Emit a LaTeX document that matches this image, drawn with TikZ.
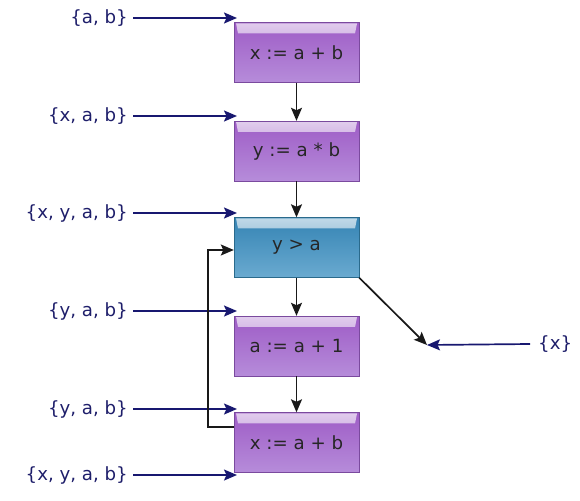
\documentclass[tikz,border=0pt]{standalone}
\usepackage{fontspec}
\setmainfont{DejaVu Sans}
\usetikzlibrary{arrows.meta,calc,fadings}
\definecolor{navy}{HTML}{181870}
\definecolor{lbl}{HTML}{1E1E6A}
\definecolor{ptop}{HTML}{9E5CC6}
\definecolor{pbot}{HTML}{B68CDA}
\definecolor{pbord}{HTML}{7A4A9E}
\definecolor{btop}{HTML}{3584B4}
\definecolor{bbot}{HTML}{6AAAD0}
\definecolor{bbord}{HTML}{2A6A8C}
\tikzset{
  gloss/.style={path picture={\fill[white,opacity=0.7,path fading=south]
      ($(path picture bounding box.north west)+(2pt,-0.8pt)$) --
      ($(path picture bounding box.north east)+(-2pt,-0.8pt)$) --
      ($(path picture bounding box.north east)+(-4pt,-11pt)$) --
      ($(path picture bounding box.north west)+(4pt,-11pt)$) -- cycle;}},
  blk/.style={minimum width=125pt,minimum height=60pt,inner sep=0pt,
    font=\fontsize{18.2}{21}\selectfont,text=black!85},
  purp/.style={blk,draw=pbord,top color=ptop,bottom color=pbot,gloss},
  blu/.style={blk,draw=bbord,top color=btop,bottom color=bbot,gloss},
  setlbl/.style={font=\fontsize{18.2}{21}\selectfont,text=lbl,inner sep=0pt},
  tip/.tip={Stealth[length=13pt,width=11pt,inset=2.5pt]},
  inarr/.style={draw=navy,line width=1.7pt,-tip},
  flow/.style={draw=black!90,line width=1.7pt,-tip},
}
\begin{document}
\begin{tikzpicture}[x=1pt,y=-1pt]
\useasboundingbox (0,0) rectangle (580,500);
\node[purp] (b1) at (296.5,52.5) {x := a + b};
\node[purp] (b2) at (296.5,151) {y := a * b};
\node[blu]  (b3) at (296.5,247.5) {y > a};
\node[purp] (b4) at (296.5,346) {a := a + 1};
\node[purp] (b5) at (296.5,442.5) {x := a + b};

\node[setlbl,anchor=east] (l1) at (128,18) {\{a, b\}};
\node[setlbl,anchor=east] (l2) at (128,116) {\{x, a, b\}};
\node[setlbl,anchor=east] (l3) at (128,213) {\{x, y, a, b\}};
\node[setlbl,anchor=east] (l4) at (128,311) {\{y, a, b\}};
\node[setlbl,anchor=east] (l5) at (128,409) {\{y, a, b\}};
\node[setlbl,anchor=east] (l6) at (128,475) {\{x, y, a, b\}};
\node[setlbl,anchor=west] (lx) at (538,344) {\{x\}};

\coordinate (t1) at (237,18);
\coordinate (t2) at (237,116);
\coordinate (t3) at (237,213);
\coordinate (t4) at (237,311);
\coordinate (t5) at (237,409);
\coordinate (t6) at (237,475);
\coordinate (tx) at (427,345);
\coordinate (lp) at (208,250);

\foreach \i in {1,...,6} \draw[inarr] ($(l\i.east)+(5pt,0)$) -- (t\i);
\draw[inarr] ($(lx.west)+(-8pt,0)$) -- (tx);

\draw[flow] (b1) -- (b2);
\draw[flow] (b2) -- (b3);
\draw[flow] (b3) -- (b4);
\draw[flow] (b4) -- (b5);
\draw[flow] (b3.south east) -- (tx);
\draw[flow] (b5.west |- 0,427) -| (lp) -- (b3.west |- lp);
\end{tikzpicture}
\end{document}
